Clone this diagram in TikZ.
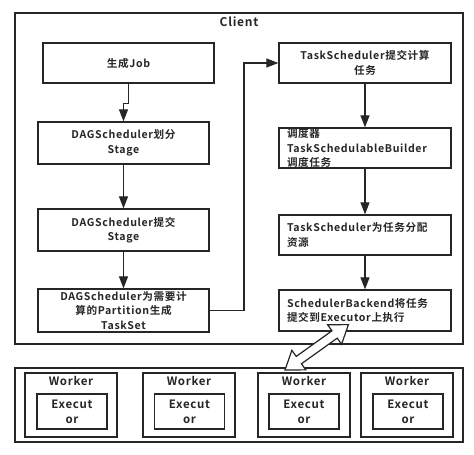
\documentclass[tikz,border=0pt]{standalone}
\usepackage{fontspec}
\setmainfont{Noto Sans CJK SC}[BoldFont={* Bold}, LetterSpace=6]
\usetikzlibrary{arrows.meta}
\definecolor{ink}{HTML}{262626}
\begin{document}
\begin{tikzpicture}[x=1pt,y=-1pt,
  every node/.style={font=\fontsize{10.6}{14.5}\selectfont\bfseries, text=ink, inner sep=0pt},
  box/.style={draw=ink, line width=1.3pt, minimum width=171pt, minimum height=41pt, align=center},
  lbox/.style={box, align=left, text width=156pt},
  wbox/.style={draw=ink, line width=1.3pt, minimum width=92pt, minimum height=64pt},
  ebox/.style={draw=ink, line width=1.3pt, minimum width=70pt, minimum height=35pt, align=center},
  frame/.style={draw=ink, line width=1.3pt},
  conn/.style={draw=ink, line width=1.2pt, -{Triangle[length=12pt,width=9pt]}},
  plain/.style={draw=ink, line width=1.2pt}]
\useasboundingbox (0,0) rectangle (474,455);
\fill[white] (0,0) rectangle (474,455);
% Client frame
\node[frame, minimum width=448pt, minimum height=331pt] (client) at (239,178.5) {};
\node[font=\fontsize{12}{13}\selectfont\bfseries] (clientlbl) at (239,22) {Client};
% left column
\node[box, minimum height=40pt] (job) at (128.5,63) {生成Job};
\node[box, minimum height=42pt] (div) at (123.5,143) {DAGScheduler划分\\Stage};
\node[box, minimum height=42pt] (sub) at (123.5,230) {DAGScheduler提交\\Stage};
\node[box, minimum height=43pt] (ts) at (123.5,310.5) {DAGScheduler为需要计\\算的Partition生成\\TaskSet};
% right column
\node[box, minimum width=172pt, minimum height=40pt] (r1) at (365,63) {TaskScheduler提交计算\\任务};
\node[lbox, minimum width=172pt, minimum height=40pt] (r2) at (365,148) {调度器\\TaskSchedulableBuilder\\调度任务};
\node[lbox, minimum width=172pt, minimum height=40pt] (r3) at (365,235) {TaskScheduler为任务分配\\资源};
\node[lbox, minimum width=172pt, minimum height=41pt] (r4) at (365,310.5) {SchedulerBackend将任务\\提交到Executor上执行};
% connectors
\draw[conn] (job.south) -- ++(0,20) -| (div.north);
\draw[conn] (div.south) -- (sub.north);
\draw[conn] (sub.south) -- (ts.north);
\coordinate (bend) at (244,62);
\draw[conn] (ts.east) -- (ts.east -| bend) -- (bend |- r1.west) -- (r1.west);
\draw[conn] (r1.south) -- (r2.north);
\draw[conn] (r2.south) -- (r3.north);
\draw[conn] (r3.south) -- (r4.north);
% workers frame
\node[frame, minimum width=448pt, minimum height=74pt] (cluster) at (239,405) {};
\foreach \i/\wx/\ex in {1/71/72, 2/189/189.5, 3/304/304, 4/407/408}{
  \node[wbox] (w\i) at (\wx,405) {};
  \node[font=\fontsize{11.5}{12}\selectfont\bfseries] (wl\i) at (\wx,381) {Worker};
  \node[ebox, font=\fontsize{11.5}{15}\selectfont\bfseries] (e\i) at (\ex,411.5) {Execut\\or};
}
% hollow double arrow
\begin{scope}[shift={(285,370)}, rotate=35.6]
\draw[draw=ink, line width=1.2pt, fill=white, line join=miter]
  (0,0) -- (17,12) -- (17,4.5) -- (61,4.5) -- (61,12) -- (78,0) -- (61,-12) -- (61,-4.5) -- (17,-4.5) -- (17,-12) -- cycle;
\end{scope}
\end{tikzpicture}
\end{document}
